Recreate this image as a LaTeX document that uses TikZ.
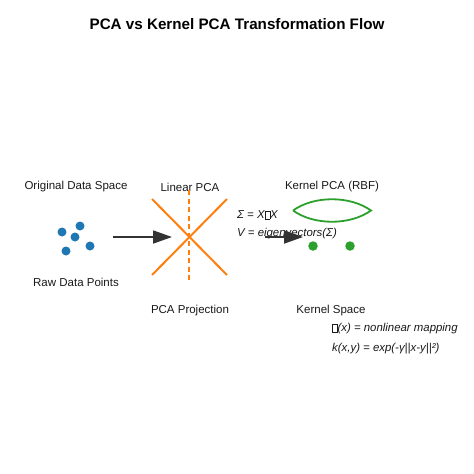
\documentclass[tikz,border=0pt]{standalone}
\usepackage{fontspec}
\setmainfont{Liberation Sans}
\usetikzlibrary{arrows.meta}
\definecolor{pblue}{HTML}{1F77B4}
\definecolor{porange}{HTML}{FF7F0E}
\definecolor{pgreen}{HTML}{2CA02C}
\definecolor{pgray}{HTML}{333333}
\newcommand{\tofubox}{{\fboxrule=0.3pt\fboxsep=0pt\fbox{\rule{0pt}{0.68em}\hspace{0.42em}}}}
\tikzset{
  lbl/.style={font=\fontsize{11.5}{13}\selectfont, inner sep=0pt, text=black!90},
  eq/.style={font=\fontsize{11.4}{13}\selectfont\itshape, inner sep=0pt, anchor=west, text=black!90},
  bdot/.style={circle, fill=pblue, minimum size=9pt, inner sep=0pt},
  gdot/.style={circle, fill=pgreen, minimum size=9.5pt, inner sep=0pt},
  flow/.style={pgray, line width=1.8pt, -{Triangle[length=19pt,width=13pt]}},
  oline/.style={porange, line width=2pt},
}
\begin{document}
\begin{tikzpicture}[x=1pt,y=-1pt]
\useasboundingbox (0,0) rectangle (474,474);
\node[font=\fontsize{15.2}{18}\selectfont\bfseries, inner sep=0pt] (title) at (237,24) {PCA vs Kernel PCA Transformation Flow};

% original data
\node[lbl] (orig) at (76,187) {Original Data Space};
\node[bdot] (d1) at (62,232) {};
\node[bdot] (d2) at (80,226) {};
\node[bdot] (d3) at (75,237) {};
\node[bdot] (d4) at (66,251) {};
\node[bdot] (d5) at (90,246) {};
\node[lbl] (raw) at (76,282) {Raw Data Points};

% linear PCA
\node[lbl] (lin) at (190,187) {Linear PCA};
\coordinate (a1) at (152,199);
\coordinate (a2) at (227,275);
\coordinate (b1) at (152,275);
\coordinate (b2) at (227,199);
\coordinate (v1) at (189,190);
\coordinate (v2) at (189,281);
\draw[oline] (a1) -- (a2);
\draw[oline] (b1) -- (b2);
\draw[oline, dash pattern=on 5pt off 3.5pt] (v1) -- (v2);
\node[lbl] (proj) at (190,311) {PCA Projection};

\coordinate (s1) at (113,237);
\coordinate (e1) at (172,237);
\draw[flow] (s1) -- (e1);

\node[eq] (sig) at (237,215) {Σ = X\tofubox X};
\node[eq] (eig) at (237,234) {V = eigenvectors(Σ)};

\coordinate (s2) at (265,237);
\coordinate (e2) at (303,237);
\draw[flow] (s2) -- (e2);

% kernel PCA
\node[lbl] (ker) at (332,187) {Kernel PCA (RBF)};
\coordinate (l1) at (293,210.5);
\coordinate (l2) at (371,210.5);
\draw[pgreen, line width=1.8pt] (l1) .. controls (314,195.5) and (350,195.5) .. (l2)
  .. controls (350,225.5) and (314,225.5) .. (l1);
\node[gdot] (g1) at (313,246) {};
\node[gdot] (g2) at (350,246) {};
\node[lbl] (kspace) at (331,311) {Kernel Space};
\node[eq] (phi) at (332,329) {\tofubox(x) = nonlinear mapping};
\node[eq] (kxy) at (332,349) {k(x,y) = exp(-γ||x-y||²)};
\end{tikzpicture}
\end{document}
